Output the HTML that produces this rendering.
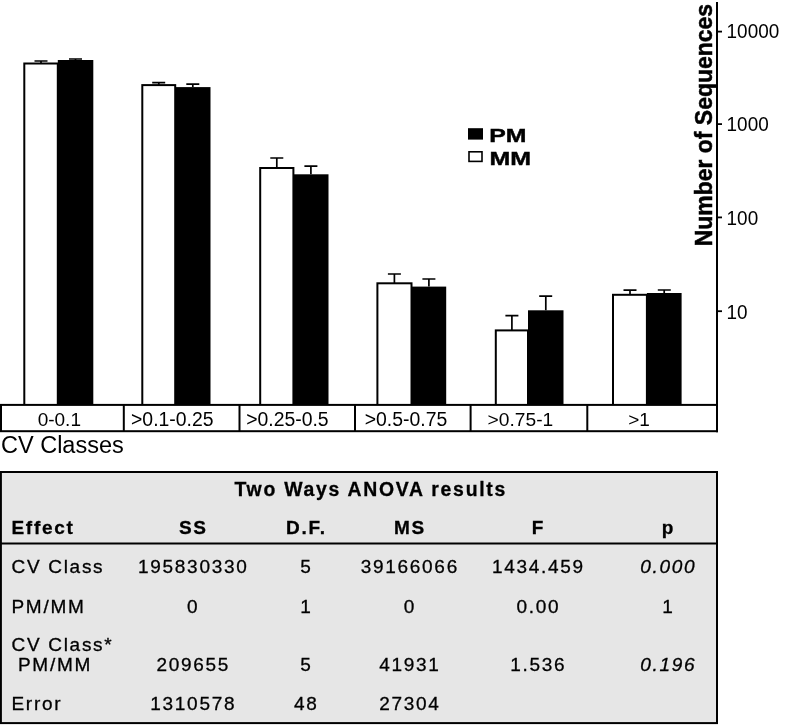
<!DOCTYPE html>
<html><head><meta charset="utf-8"><title>CV Classes</title>
<style>
html,body{margin:0;padding:0;background:#fff;}
svg{display:block;font-family:"Liberation Sans",Arial,Helvetica,sans-serif;fill:#000;}
.t{font-size:19px;letter-spacing:1.7px;stroke:#000;stroke-width:0.3px;}
.b{font-weight:bold;}
.c{text-anchor:middle;}
.i{font-style:italic;}
</style></head><body>
<svg width="785" height="725" viewBox="0 0 785 725">
<rect width="785" height="725" fill="#fff"/>
<rect x="24.3" y="63.5" width="33.5" height="342.4" fill="#fff" stroke="#000" stroke-width="2"/>
<rect x="57.8" y="60.0" width="35.5" height="344.9" fill="#000"/>
<path d="M41.0 63.5V61.0M34.5 61.0H47.5M75.5 60.0V59.0M69.0 59.0H82.0" stroke="#000" stroke-width="1.7" fill="none"/>
<rect x="142.3" y="85.1" width="32.9" height="320.8" fill="#fff" stroke="#000" stroke-width="2"/>
<rect x="175.2" y="87.1" width="35.3" height="317.8" fill="#000"/>
<path d="M158.8 85.1V82.7M152.2 82.7H165.2M192.8 87.1V84.2M186.3 84.2H199.3" stroke="#000" stroke-width="1.7" fill="none"/>
<rect x="260.2" y="168.0" width="33.2" height="237.9" fill="#fff" stroke="#000" stroke-width="2"/>
<rect x="293.4" y="174.3" width="35.1" height="230.6" fill="#000"/>
<path d="M276.8 168.0V158.0M270.3 158.0H283.3M310.9 174.3V166.1M304.4 166.1H317.4" stroke="#000" stroke-width="1.7" fill="none"/>
<rect x="377.4" y="283.3" width="34.1" height="122.6" fill="#fff" stroke="#000" stroke-width="2"/>
<rect x="411.5" y="286.6" width="34.7" height="118.3" fill="#000"/>
<path d="M394.4 283.3V274.0M387.9 274.0H400.9M428.9 286.6V279.0M422.4 279.0H435.4" stroke="#000" stroke-width="1.7" fill="none"/>
<rect x="495.8" y="330.4" width="32.2" height="75.5" fill="#fff" stroke="#000" stroke-width="2"/>
<rect x="528.0" y="310.3" width="35.5" height="94.6" fill="#000"/>
<path d="M511.9 330.4V315.6M505.4 315.6H518.4M545.8 310.3V296.2M539.2 296.2H552.2" stroke="#000" stroke-width="1.7" fill="none"/>
<rect x="613.0" y="294.8" width="33.9" height="111.1" fill="#fff" stroke="#000" stroke-width="2"/>
<rect x="646.9" y="293.0" width="34.7" height="111.9" fill="#000"/>
<path d="M630.0 294.8V290.1M623.5 290.1H636.5M664.2 293.0V290.0M657.8 290.0H670.8" stroke="#000" stroke-width="1.7" fill="none"/>
<rect x="1" y="404.9" width="716" height="26.3" fill="#fff" stroke="#000" stroke-width="2"/>
<line x1="123.8" y1="404.4" x2="123.8" y2="431.2" stroke="#000" stroke-width="2"/>
<line x1="239.5" y1="404.4" x2="239.5" y2="431.2" stroke="#000" stroke-width="2"/>
<line x1="355" y1="404.4" x2="355" y2="431.2" stroke="#000" stroke-width="2"/>
<line x1="470.6" y1="404.4" x2="470.6" y2="431.2" stroke="#000" stroke-width="2"/>
<line x1="587.3" y1="404.4" x2="587.3" y2="431.2" stroke="#000" stroke-width="2"/>
<text x="59.3" y="426.3" font-size="19.0" class="c">0-0.1</text>
<text x="172.3" y="426.3" font-size="19.4" class="c">&gt;0.1-0.25</text>
<text x="287.4" y="426.3" font-size="19.4" class="c">&gt;0.25-0.5</text>
<text x="406" y="426.3" font-size="19.4" class="c">&gt;0.5-0.75</text>
<text x="520.4" y="426.3" font-size="19.2" class="c">&gt;0.75-1</text>
<text x="639" y="426.3" font-size="19" class="c">&gt;1</text>
<text x="1" y="453.3" font-size="23.5">CV Classes</text>
<line x1="717" y1="2" x2="717" y2="432.2" stroke="#000" stroke-width="2"/>
<line x1="717" y1="31.6" x2="722" y2="31.6" stroke="#000" stroke-width="1.8"/>
<text transform="translate(726.6,38.1) scale(0.965,1)" font-size="19.6">10000</text>
<line x1="717" y1="124.1" x2="722" y2="124.1" stroke="#000" stroke-width="1.8"/>
<text transform="translate(726.6,131.2) scale(0.965,1)" font-size="19.6">1000</text>
<line x1="717" y1="217.4" x2="722" y2="217.4" stroke="#000" stroke-width="1.8"/>
<text transform="translate(726.6,224.6) scale(0.965,1)" font-size="19.6">100</text>
<line x1="717" y1="311.2" x2="722" y2="311.2" stroke="#000" stroke-width="1.8"/>
<text transform="translate(726.6,318.7) scale(0.965,1)" font-size="19.6">10</text>
<text transform="translate(712,246.2) rotate(-90) scale(0.985,1)" font-size="23.3" class="b" stroke="#000" stroke-width="0.5">Number of Sequences</text>
<rect x="468" y="128.2" width="15" height="11.4" fill="#000"/>
<rect x="469" y="151.8" width="13" height="9.6" fill="#fff" stroke="#000" stroke-width="1.6"/>
<text x="489.2" y="142.2" font-size="17.5" class="b" textLength="37.2" lengthAdjust="spacingAndGlyphs" stroke="#000" stroke-width="0.4">PM</text>
<text x="489.5" y="165.3" font-size="17.5" class="b" textLength="41.5" lengthAdjust="spacingAndGlyphs" stroke="#000" stroke-width="0.4">MM</text>
<rect x="0.9" y="472" width="716.1" height="251.1" fill="#e6e6e6" stroke="#000" stroke-width="2"/>
<line x1="0" y1="543.5" x2="718" y2="543.5" stroke="#000" stroke-width="2"/>
<text x="370.8" y="495.7" class="t b c" style="font-size:19.4px;letter-spacing:1.75px">Two Ways ANOVA results</text>
<text x="11.5" y="534.3" class="t b">Effect</text>
<text x="193.25" y="534.3" class="t b c">SS</text>
<text x="306.35" y="534.3" class="t b c">D.F.</text>
<text x="409.85" y="534.3" class="t b c">MS</text>
<text x="538.35" y="534.3" class="t b c">F</text>
<text x="668.35" y="534.3" class="t b c">p</text>
<text x="11.5" y="573.2" class="t">CV Class</text>
<text x="193.25" y="573.2" class="t c">195830330</text>
<text x="306.35" y="573.2" class="t c">5</text>
<text x="409.85" y="573.2" class="t c">39166066</text>
<text x="538.35" y="573.2" class="t c">1434.459</text>
<text x="668.35" y="573.2" class="t c i">0.000</text>
<text x="11.5" y="612.5" class="t">PM/MM</text>
<text x="193.25" y="612.5" class="t c">0</text>
<text x="306.35" y="612.5" class="t c">1</text>
<text x="409.85" y="612.5" class="t c">0</text>
<text x="538.35" y="612.5" class="t c">0.00</text>
<text x="668.35" y="612.5" class="t c">1</text>
<text x="11.5" y="651" class="t">CV Class*</text>
<text x="18" y="671.3" class="t">PM/MM</text>
<text x="193.25" y="671.3" class="t c">209655</text>
<text x="306.35" y="671.3" class="t c">5</text>
<text x="409.85" y="671.3" class="t c">41931</text>
<text x="538.35" y="671.3" class="t c">1.536</text>
<text x="668.35" y="671.3" class="t c i">0.196</text>
<text x="11.5" y="710.0" class="t">Error</text>
<text x="193.25" y="710.0" class="t c">1310578</text>
<text x="306.35" y="710.0" class="t c">48</text>
<text x="409.85" y="710.0" class="t c">27304</text>
</svg></body></html>
